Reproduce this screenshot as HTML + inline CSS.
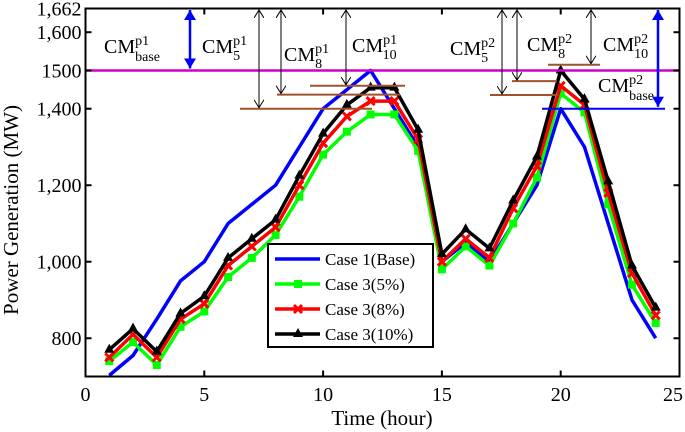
<!DOCTYPE html>
<html><head><meta charset="utf-8"><style>
body{margin:0;background:#fff}
svg{display:block;font-family:"Liberation Serif",serif}
</style></head><body>
<svg id="chart" width="685" height="432" xmlns="http://www.w3.org/2000/svg">
<defs>
<marker id="ah" markerWidth="10" markerHeight="10" refX="8" refY="5" orient="auto-start-reverse" markerUnits="userSpaceOnUse"><path d="M0,0 L8,5 L0,10" fill="none" stroke="#000" stroke-width="1"/></marker>
<marker id="bh" markerWidth="12" markerHeight="12" refX="10" refY="6" orient="auto-start-reverse" markerUnits="userSpaceOnUse"><path d="M0,0 L10,6 L0,12 Z" fill="#00f"/></marker>
</defs>
<g id="grid"></g>
<g id="series"></g>
<g id="anno"></g>
<g id="axes"></g>
</svg>
<script>
const hours=[1,2,3,4,5,6,7,8,9,10,11,12,13,14,15,16,17,18,19,20,21,22,23,24];
const case1=[703,755,850,950,1000,1100,1150,1200,1300,1400,1450,1500,1400,1300,1000,1050,1000,1100,1200,1400,1300,1100,900,800];
const case5=[740,790,730,830,870,960,1010,1070,1170,1280,1340,1385,1385,1290,980,1040,990,1100,1220,1440,1390,1150,940,840];
const case8=[750,810,750,850,890,990,1040,1090,1200,1310,1380,1420,1420,1320,1000,1060,1010,1140,1250,1460,1410,1180,970,860];
const case10=[770,825,765,865,910,1010,1060,1110,1225,1335,1410,1455,1455,1345,1020,1085,1035,1160,1275,1500,1425,1210,990,880];
const xTicks=[0,5,10,15,20,25];
const yTicks=[800,1000,1200,1400,1500,1600,1662];
const yTickLabels=["800","1,000","1,200","1,400","1500","1,600","1,662"];
const NS="http://www.w3.org/2000/svg";
const X0=85.5,X1=679.5,Y0=376.5,Y1=8.5,XMIN=0,XMAX=25,YMIN=700,YMAX=1662;
function sx(v){return X0+(v-XMIN)/(XMAX-XMIN)*(X1-X0);}
function sy(v){return Y0-(v-YMIN)/(YMAX-YMIN)*(Y0-Y1);}
function el(t,a,p){const e=document.createElementNS(NS,t);for(const k in a)e.setAttribute(k,a[k]);p.appendChild(e);return e;}
const S=document.getElementById('series'),A=document.getElementById('axes'),N=document.getElementById('anno');

function marker(type,x,y,c,g){
  if(type==='sq'){const m=el('rect',{x:x-4,y:y-4,width:8,height:8,fill:c},g);}
  else if(type==='x'){const m=el('path',{d:`M${x-4},${y-4}L${x+4},${y+4}M${x-4},${y+4}L${x+4},${y-4}`,stroke:c,'stroke-width':3},g);}
  else if(type==='tri'){const m=el('path',{d:`M${x},${y-6}L${x+5},${y+3}L${x-5},${y+3}Z`,fill:c},g);}
}
function drawSeries(vals,c,mk,name){
  const g=el('g',{},S);
  const d=vals.map((v,i)=>(i?'L':'M')+sx(hours[i]).toFixed(1)+','+sy(v).toFixed(1)).join('');
  el('path',{d,fill:'none',stroke:c,'stroke-width':3.5,'stroke-linejoin':'round'},g);
  if(mk)vals.forEach((v,i)=>marker(mk,sx(hours[i]),sy(v),c,g));
}
drawSeries(case1,'#0000ff',null,'series-case1-base');
drawSeries(case5,'#00ff00','sq','series-case3-5pct');
drawSeries(case8,'#ff0000','x','series-case3-8pct');
drawSeries(case10,'#000000','tri','series-case3-10pct');

function line(x1,y1,x2,y2,st,w,name,mk){const l=el('line',{x1,y1,x2,y2,stroke:st,'stroke-width':w},N);if(mk){l.setAttribute('marker-start',mk);l.setAttribute('marker-end',mk);}}
line(X0,sy(1500),X1,sy(1500),'#cc00cc',2.5,'limit-line-1500');
line(240,sy(1400),372,sy(1400),'#a0522d',2,'p1-level-5');
line(277,sy(1437),400,sy(1437),'#a0522d',2,'p1-level-8');
line(310,sy(1460),405,sy(1460),'#a0522d',2,'p1-level-10');
line(490,sy(1436),558,sy(1436),'#a0522d',2,'p2-level-5');
line(512,sy(1472),557,sy(1472),'#a0522d',2,'p2-level-8');
line(548,sy(1515),600,sy(1515),'#a0522d',2,'p2-level-10');
line(542,sy(1400),665,sy(1400),'#0000ff',2,'p2-base-level');
line(190,10,190,sy(1500)-2,'#0000ff',2.5,'cm-p1-base-arrow','url(#bh)');
line(259,10,259,sy(1400)-1,'#000',1,'cm-p1-5-arrow','url(#ah)');
line(281,10,281,sy(1437)-1,'#000',1,'cm-p1-8-arrow','url(#ah)');
line(346,10,346,sy(1460)-1,'#000',1,'cm-p1-10-arrow','url(#ah)');
line(502,10,502,sy(1436)-1,'#000',1,'cm-p2-5-arrow','url(#ah)');
line(517,10,517,sy(1472)-1,'#000',1,'cm-p2-8-arrow','url(#ah)');
line(591,10,591,sy(1515)-1,'#000',1,'cm-p2-10-arrow','url(#ah)');
line(658,10,658,sy(1400)-2,'#0000ff',2.5,'cm-p2-base-arrow','url(#bh)');
function cm(x,y,sup,sub,name){const t=el('text',{x,y,'font-size':20},N);
 t.innerHTML=`CM<tspan font-size="14" dy="-8">${sup}</tspan><tspan font-size="14" dx="-${sup.length*7}" dy="${sub.length>2?16:15}">${sub}</tspan>`;}
cm(104,53,'p1','base','cm-p1-base-label');
cm(202,53,'p1','5','cm-p1-5-label');
cm(284,61,'p1','8','cm-p1-8-label');
cm(352,52,'p1','10','cm-p1-10-label');
cm(450,55,'p2','5','cm-p2-5-label');
cm(527,51,'p2','8','cm-p2-8-label');
cm(603,51,'p2','10','cm-p2-10-label');
cm(598,92,'p2','base','cm-p2-base-label');

const box=el('rect',{x:X0,y:Y1,width:X1-X0,height:Y0-Y1,fill:'none',stroke:'#000','stroke-width':2},A);

xTicks.forEach(v=>{const x=sx(v);el('line',{x1:x,y1:Y0,x2:x,y2:Y0-6,stroke:'#000','stroke-width':2},A);el('line',{x1:x,y1:Y1,x2:x,y2:Y1+6,stroke:'#000','stroke-width':2},A);
 const t=el('text',{x:Math.min(x,673),y:401,'font-size':20,'text-anchor':'middle'},A);t.textContent=v;});
yTicks.forEach((v,i)=>{const y=sy(v);el('line',{x1:X0,y1:y,x2:X0+6,y2:y,stroke:'#000','stroke-width':2},A);el('line',{x1:X1,y1:y,x2:X1-6,y2:y,stroke:'#000','stroke-width':2},A);
 const t=el('text',{x:X0-4,y:y+7,'font-size':20,'text-anchor':'end'},A);t.textContent=yTickLabels[i];});
const xt=el('text',{x:382,y:425,'font-size':21,'text-anchor':'middle'},A);xt.textContent='Time (hour)';
const yt=el('text',{x:0,y:0,'font-size':21,'text-anchor':'middle',transform:'translate(18,210) rotate(-90)'},A);yt.textContent='Power Generation (MW)';

const L=el('g',{},A);
el('rect',{x:268,y:244,width:165,height:103,fill:'#fff',stroke:'#000','stroke-width':2},L);
const leg=[['Case 1(Base)','#0000ff',null],['Case 3(5%)','#00ff00','sq'],['Case 3(8%)','#ff0000','x'],['Case 3(10%)','#000000','tri']];
leg.forEach((e,i)=>{const y=259+i*25;const g=el('g',{},L);
 el('line',{x1:275,y1:y,x2:320,y2:y,stroke:e[1],'stroke-width':3.5},g);if(e[2])marker(e[2],298,y,e[1],g);
 const t=el('text',{x:325,y:y+6,'font-size':17},g);t.textContent=e[0];});
</script>
</body></html>
